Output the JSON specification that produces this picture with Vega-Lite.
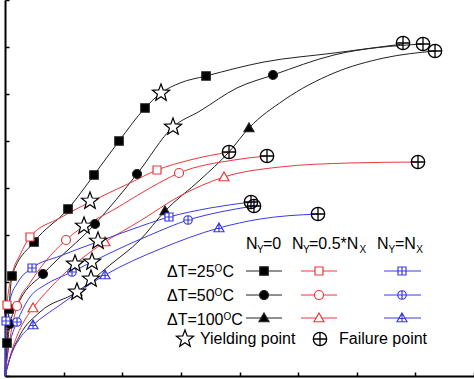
{
  "$schema": "https://vega.github.io/schema/vega-lite/v6.json",
  "width": 469,
  "height": 376,
  "autosize": {"type": "none"},
  "padding": {"left": 5, "top": 0, "right": 0, "bottom": 3},
  "config": {
    "view": {"stroke": null},
    "axis": {"labels": false, "grid": false, "domainColor": "black", "domainWidth": 2, "tickColor": "black", "tickWidth": 1.5, "tickSize": -4, "title": null}
  },
  "datasets": {
    "curves": [
      {"series": "0-25", "x": 0, "y": 0}, {"series": "0-25", "x": 0.017, "y": 0.447}, {"series": "0-25", "x": 0.034, "y": 0.702}, {"series": "0-25", "x": 0.068, "y": 1.426}, {"series": "0-25", "x": 0.119, "y": 2.128}, {"series": "0-25", "x": 0.495, "y": 2.851}, {"series": "0-25", "x": 1.075, "y": 3.553}, {"series": "0-25", "x": 1.518, "y": 4.277}, {"series": "0-25", "x": 1.945, "y": 5.0}, {"series": "0-25", "x": 2.388, "y": 5.702}, {"series": "0-25", "x": 2.661, "y": 6.021}, {"series": "0-25", "x": 2.985, "y": 6.234}, {"series": "0-25", "x": 3.429, "y": 6.383}, {"series": "0-25", "x": 4.418, "y": 6.681}, {"series": "0-25", "x": 5.612, "y": 6.872}, {"series": "0-25", "x": 6.789, "y": 7.064},
      {"series": "0-50", "x": 0, "y": 0}, {"series": "0-50", "x": 0.034, "y": 0.553}, {"series": "0-50", "x": 0.085, "y": 1.106}, {"series": "0-50", "x": 0.256, "y": 1.617}, {"series": "0-50", "x": 0.648, "y": 2.17}, {"series": "0-50", "x": 1.535, "y": 3.234}, {"series": "0-50", "x": 2.252, "y": 4.298}, {"series": "0-50", "x": 2.866, "y": 5.298}, {"series": "0-50", "x": 3.326, "y": 5.638}, {"series": "0-50", "x": 3.957, "y": 6.128}, {"series": "0-50", "x": 4.571, "y": 6.404}, {"series": "0-50", "x": 5.612, "y": 6.83}, {"series": "0-50", "x": 7.13, "y": 7.064},
      {"series": "0-100", "x": 0, "y": 0}, {"series": "0-100", "x": 0.085, "y": 0.383}, {"series": "0-100", "x": 0.256, "y": 0.872}, {"series": "0-100", "x": 0.597, "y": 1.362}, {"series": "0-100", "x": 1.228, "y": 1.787}, {"series": "0-100", "x": 1.791, "y": 2.362}, {"series": "0-100", "x": 2.303, "y": 2.894}, {"series": "0-100", "x": 2.729, "y": 3.511}, {"series": "0-100", "x": 3.326, "y": 4.17}, {"series": "0-100", "x": 3.821, "y": 4.766}, {"series": "0-100", "x": 4.162, "y": 5.277}, {"series": "0-100", "x": 4.759, "y": 5.872}, {"series": "0-100", "x": 5.612, "y": 6.447}, {"series": "0-100", "x": 6.465, "y": 6.766}, {"series": "0-100", "x": 7.335, "y": 6.915},
      {"series": "0.5-25", "x": 0, "y": 0}, {"series": "0.5-25", "x": 0.017, "y": 0.66}, {"series": "0.5-25", "x": 0.034, "y": 1.511}, {"series": "0.5-25", "x": 0.119, "y": 2.149}, {"series": "0.5-25", "x": 0.256, "y": 2.574}, {"series": "0.5-25", "x": 0.426, "y": 2.957}, {"series": "0.5-25", "x": 0.938, "y": 3.362}, {"series": "0.5-25", "x": 1.45, "y": 3.702}, {"series": "0.5-25", "x": 2.132, "y": 4.106}, {"series": "0.5-25", "x": 2.593, "y": 4.383}, {"series": "0.5-25", "x": 3.156, "y": 4.596}, {"series": "0.5-25", "x": 3.821, "y": 4.766},
      {"series": "0.5-50", "x": 0, "y": 0}, {"series": "0.5-50", "x": 0.068, "y": 0.66}, {"series": "0.5-50", "x": 0.205, "y": 1.489}, {"series": "0.5-50", "x": 0.426, "y": 1.979}, {"series": "0.5-50", "x": 0.682, "y": 2.426}, {"series": "0.5-50", "x": 1.041, "y": 2.894}, {"series": "0.5-50", "x": 1.962, "y": 3.617}, {"series": "0.5-50", "x": 2.473, "y": 4.0}, {"series": "0.5-50", "x": 2.968, "y": 4.319}, {"series": "0.5-50", "x": 3.906, "y": 4.596}, {"series": "0.5-50", "x": 4.469, "y": 4.681},
      {"series": "0.5-100", "x": 0, "y": 0}, {"series": "0.5-100", "x": 0.119, "y": 0.553}, {"series": "0.5-100", "x": 0.29, "y": 1.085}, {"series": "0.5-100", "x": 0.478, "y": 1.447}, {"series": "0.5-100", "x": 0.768, "y": 1.872}, {"series": "0.5-100", "x": 1.194, "y": 2.383}, {"series": "0.5-100", "x": 1.706, "y": 2.851}, {"series": "0.5-100", "x": 2.303, "y": 3.298}, {"series": "0.5-100", "x": 2.985, "y": 3.83}, {"series": "0.5-100", "x": 3.736, "y": 4.234}, {"series": "0.5-100", "x": 4.691, "y": 4.447}, {"series": "0.5-100", "x": 5.885, "y": 4.532}, {"series": "0.5-100", "x": 7.045, "y": 4.553},
      {"series": "1-25", "x": 0, "y": 0}, {"series": "1-25", "x": 0.009, "y": 0.553}, {"series": "1-25", "x": 0.017, "y": 1.17}, {"series": "1-25", "x": 0.085, "y": 1.617}, {"series": "1-25", "x": 0.222, "y": 2.0}, {"series": "1-25", "x": 0.461, "y": 2.298}, {"series": "1-25", "x": 0.938, "y": 2.553}, {"series": "1-25", "x": 1.62, "y": 2.872}, {"series": "1-25", "x": 2.132, "y": 3.106}, {"series": "1-25", "x": 2.797, "y": 3.383}, {"series": "1-25", "x": 3.497, "y": 3.574}, {"series": "1-25", "x": 4.196, "y": 3.702},
      {"series": "1-50", "x": 0, "y": 0}, {"series": "1-50", "x": 0.051, "y": 0.553}, {"series": "1-50", "x": 0.119, "y": 0.872}, {"series": "1-50", "x": 0.205, "y": 1.149}, {"series": "1-50", "x": 0.426, "y": 1.681}, {"series": "1-50", "x": 0.682, "y": 1.936}, {"series": "1-50", "x": 1.143, "y": 2.213}, {"series": "1-50", "x": 1.791, "y": 2.617}, {"series": "1-50", "x": 2.474, "y": 3.0}, {"series": "1-50", "x": 3.122, "y": 3.319}, {"series": "1-50", "x": 3.667, "y": 3.489}, {"series": "1-50", "x": 4.247, "y": 3.617},
      {"series": "1-100", "x": 0, "y": 0}, {"series": "1-100", "x": 0.085, "y": 0.383}, {"series": "1-100", "x": 0.256, "y": 0.809}, {"series": "1-100", "x": 0.478, "y": 1.085}, {"series": "1-100", "x": 0.938, "y": 1.511}, {"series": "1-100", "x": 1.706, "y": 2.149}, {"series": "1-100", "x": 2.644, "y": 2.702}, {"series": "1-100", "x": 3.65, "y": 3.149}, {"series": "1-100", "x": 4.35, "y": 3.34}, {"series": "1-100", "x": 5.339, "y": 3.447}
    ],
    "markers": [
      {"series": "0-25", "x": 0.034, "y": 0.702}, {"series": "0-25", "x": 0.068, "y": 1.426}, {"series": "0-25", "x": 0.119, "y": 2.128}, {"series": "0-25", "x": 0.495, "y": 2.851}, {"series": "0-25", "x": 1.075, "y": 3.553}, {"series": "0-25", "x": 1.518, "y": 4.277}, {"series": "0-25", "x": 1.945, "y": 5.0}, {"series": "0-25", "x": 2.388, "y": 5.702}, {"series": "0-25", "x": 3.429, "y": 6.383},
      {"series": "0-50", "x": 0.085, "y": 1.106}, {"series": "0-50", "x": 0.648, "y": 2.17}, {"series": "0-50", "x": 1.535, "y": 3.234}, {"series": "0-50", "x": 2.252, "y": 4.298}, {"series": "0-50", "x": 4.571, "y": 6.404},
      {"series": "0-100", "x": 1.228, "y": 1.787}, {"series": "0-100", "x": 2.729, "y": 3.511}, {"series": "0-100", "x": 4.162, "y": 5.277},
      {"series": "0.5-25", "x": 0.034, "y": 1.511}, {"series": "0.5-25", "x": 0.426, "y": 2.957}, {"series": "0.5-25", "x": 2.593, "y": 4.383},
      {"series": "0.5-50", "x": 0.205, "y": 1.489}, {"series": "0.5-50", "x": 1.041, "y": 2.894}, {"series": "0.5-50", "x": 2.968, "y": 4.319},
      {"series": "0.5-100", "x": 0.478, "y": 1.447}, {"series": "0.5-100", "x": 1.706, "y": 2.851}, {"series": "0.5-100", "x": 3.736, "y": 4.234},
      {"series": "1-25", "x": 0.017, "y": 1.17}, {"series": "1-25", "x": 0.461, "y": 2.298}, {"series": "1-25", "x": 2.797, "y": 3.383},
      {"series": "1-50", "x": 0.205, "y": 1.149}, {"series": "1-50", "x": 1.143, "y": 2.213}, {"series": "1-50", "x": 3.122, "y": 3.319},
      {"series": "1-100", "x": 0.478, "y": 1.085}, {"series": "1-100", "x": 1.706, "y": 2.149}, {"series": "1-100", "x": 3.65, "y": 3.149}
    ],
    "failure": [
      {"x": 6.789, "y": 7.085}, {"x": 7.13, "y": 7.064}, {"x": 7.335, "y": 6.915}, {"x": 3.821, "y": 4.766}, {"x": 4.469, "y": 4.681}, {"x": 7.045, "y": 4.553}, {"x": 4.196, "y": 3.702}, {"x": 4.247, "y": 3.617}, {"x": 5.339, "y": 3.447}, {"x": 5.373, "y": 0.787}
    ],
    "yield": [
      {"x": 2.661, "y": 6.021}, {"x": 2.866, "y": 5.298}, {"x": 1.45, "y": 3.723}, {"x": 1.348, "y": 3.191}, {"x": 1.586, "y": 2.872}, {"x": 1.194, "y": 2.383}, {"x": 1.484, "y": 2.426}, {"x": 1.467, "y": 2.064}, {"x": 1.228, "y": 1.787}, {"x": 3.07, "y": 0.787}
    ],
    "legend": [
      {"series": "0-25", "x": 4.111, "x2": 4.725, "y": 2.234}, {"series": "0.5-25", "x": 5.049, "x2": 5.663, "y": 2.234}, {"series": "1-25", "x": 6.465, "x2": 7.096, "y": 2.234},
      {"series": "0-50", "x": 4.111, "x2": 4.725, "y": 1.723}, {"series": "0.5-50", "x": 5.049, "x2": 5.663, "y": 1.723}, {"series": "1-50", "x": 6.465, "x2": 7.096, "y": 1.723},
      {"series": "0-100", "x": 4.111, "x2": 4.725, "y": 1.234}, {"series": "0.5-100", "x": 5.049, "x2": 5.663, "y": 1.234}, {"series": "1-100", "x": 6.465, "x2": 7.096, "y": 1.234}
    ],
    "legendPts": [
      {"series": "0-25", "x": 4.418, "y": 2.234}, {"series": "0.5-25", "x": 5.356, "y": 2.234}, {"series": "1-25", "x": 6.772, "y": 2.234},
      {"series": "0-50", "x": 4.418, "y": 1.723}, {"series": "0.5-50", "x": 5.356, "y": 1.723}, {"series": "1-50", "x": 6.772, "y": 1.723},
      {"series": "0-100", "x": 4.418, "y": 1.234}, {"series": "0.5-100", "x": 5.356, "y": 1.234}, {"series": "1-100", "x": 6.772, "y": 1.234}
    ],
    "labels": [
      {"t": "N", "x": 4.111, "y": 2.7}, {"t": "=0", "x": 4.401, "y": 2.7},
      {"t": "N", "x": 4.896, "y": 2.7}, {"t": "=0.5*N", "x": 5.186, "y": 2.7},
      {"t": "N", "x": 6.345, "y": 2.7}, {"t": "=N", "x": 6.652, "y": 2.7},
      {"t": "ΔT=25", "x": 2.763, "y": 2.106}, {"t": "C", "x": 3.708, "y": 2.106},
      {"t": "ΔT=50", "x": 2.763, "y": 1.596}, {"t": "C", "x": 3.708, "y": 1.596},
      {"t": "ΔT=100", "x": 2.763, "y": 1.085}, {"t": "C", "x": 3.86, "y": 1.085},
      {"t": "Yielding point", "x": 3.326, "y": 0.681}, {"t": "Failure point", "x": 5.697, "y": 0.681}
    ],
    "small": [
      {"t": "Y", "x": 4.299, "y": 2.62}, {"t": "Y", "x": 5.083, "y": 2.62}, {"t": "X", "x": 6.047, "y": 2.62}, {"t": "Y", "x": 6.543, "y": 2.62}, {"t": "X", "x": 7.016, "y": 2.62},
      {"t": "O", "x": 3.575, "y": 2.213}, {"t": "O", "x": 3.575, "y": 1.702}, {"t": "O", "x": 3.727, "y": 1.191}
    ]
  },
  "encoding": {
    "x": {"field": "x", "type": "quantitative", "scale": {"domain": [0, 8], "nice": false, "zero": false}, "axis": {"values": [0, 1, 2, 3, 4, 5, 6, 7, 8]}, "title": null},
    "y": {"field": "y", "type": "quantitative", "scale": {"domain": [0, 8], "nice": false, "zero": false}, "axis": {"values": [0, 1, 2, 3, 4, 5, 6, 7, 8]}, "title": null}
  },
  "layer": [
    {
      "data": {"name": "curves"},
      "mark": {"type": "line", "interpolate": "monotone", "strokeWidth": 1},
      "encoding": {
        "stroke": {"field": "series", "type": "nominal", "legend": null, "scale": {"domain": ["0-25", "0-50", "0-100", "0.5-25", "0.5-50", "0.5-100", "1-25", "1-50", "1-100"], "range": ["#222222", "#222222", "#222222", "#e8383d", "#e8383d", "#e8383d", "#3a3ae8", "#3a3ae8", "#3a3ae8"]}}
      }
    },
    {
      "data": {"name": "legend"},
      "mark": {"type": "rule", "strokeWidth": 1},
      "encoding": {
        "x2": {"field": "x2"},
        "stroke": {"field": "series", "type": "nominal", "legend": null}
      }
    },
    {
      "data": {"name": "markers"},
      "mark": {"type": "point", "size": 100, "strokeWidth": 1.2, "opacity": 1},
      "encoding": {
        "stroke": {"field": "series", "type": "nominal", "legend": null},
        "fill": {"field": "series", "type": "nominal", "legend": null, "scale": {"domain": ["0-25", "0-50", "0-100", "0.5-25", "0.5-50", "0.5-100", "1-25", "1-50", "1-100"], "range": ["#000000", "#000000", "#000000", "#ffffff", "#ffffff", "#ffffff", "#ffffff", "#ffffff", "#ffffff"]}},
        "shape": {"field": "series", "type": "nominal", "legend": null, "scale": {"domain": ["0-25", "0-50", "0-100", "0.5-25", "0.5-50", "0.5-100", "1-25", "1-50", "1-100"], "range": [
          "M-0.85,-0.85L0.85,-0.85L0.85,0.85L-0.85,0.85Z",
          "M-0.9,0A0.9,0.9,0,1,0,0.9,0A0.9,0.9,0,1,0,-0.9,0Z",
          "M0,-1L1,0.75L-1,0.75Z",
          "M-0.8,-0.8L0.8,-0.8L0.8,0.8L-0.8,0.8Z",
          "M-0.9,0A0.9,0.9,0,1,0,0.9,0A0.9,0.9,0,1,0,-0.9,0Z",
          "M0,-1L1,0.75L-1,0.75Z",
          "M-0.8,-0.8L0.8,-0.8L0.8,0.8L-0.8,0.8ZM-0.8,0L0.8,0M0,-0.8L0,0.8",
          "M-0.85,0A0.85,0.85,0,1,0,0.85,0A0.85,0.85,0,1,0,-0.85,0ZM-0.85,0L0.85,0M0,-0.85L0,0.85",
          "M0,-1L1,0.75L-1,0.75ZM0,-1L0,0.75M-0.6,0.1L0.6,0.1"
        ]}}
      }
    },
    {
      "data": {"name": "legendPts"},
      "mark": {"type": "point", "size": 100, "strokeWidth": 1.2, "opacity": 1},
      "encoding": {
        "stroke": {"field": "series", "type": "nominal", "legend": null},
        "fill": {"field": "series", "type": "nominal", "legend": null},
        "shape": {"field": "series", "type": "nominal", "legend": null}
      }
    },
    {
      "data": {"name": "failure"},
      "mark": {"type": "point", "shape": "M-1,0A1,1,0,1,0,1,0A1,1,0,1,0,-1,0ZM-1,0L1,0M0,-1L0,1", "size": 180, "stroke": "#000000", "strokeWidth": 1.3, "filled": false, "opacity": 1}
    },
    {
      "data": {"name": "yield"},
      "mark": {"type": "point", "shape": "M0,-1L0.247,-0.34L0.951,-0.309L0.399,0.13L0.588,0.809L0,0.42L-0.588,0.809L-0.399,0.13L-0.951,-0.309L-0.247,-0.34Z", "size": 320, "stroke": "#000000", "fill": "#ffffff", "strokeWidth": 1.2, "opacity": 1}
    },
    {
      "data": {"name": "labels"},
      "mark": {"type": "text", "align": "left", "baseline": "alphabetic", "font": "Liberation Sans", "fontSize": 16, "color": "#000000"},
      "encoding": {"text": {"field": "t"}}
    },
    {
      "data": {"name": "small"},
      "mark": {"type": "text", "align": "left", "baseline": "alphabetic", "font": "Liberation Sans", "fontSize": 10, "color": "#000000"},
      "encoding": {"text": {"field": "t"}}
    }
  ]
}
